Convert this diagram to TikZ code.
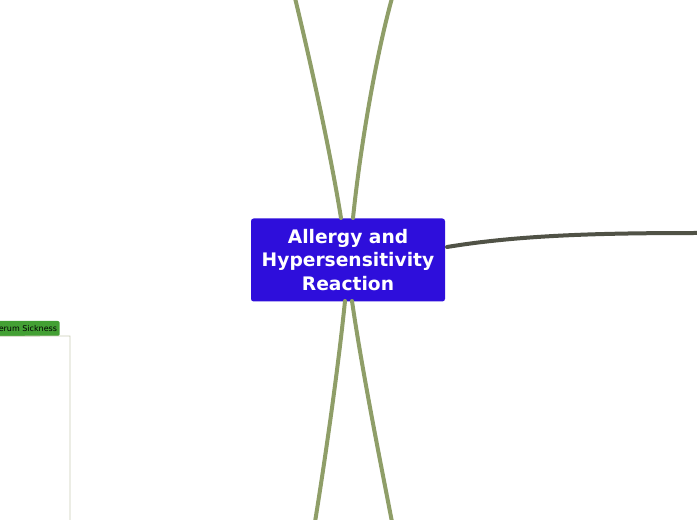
\documentclass[tikz,border=0pt]{standalone}
\usepackage{fontspec}
\setmainfont{DejaVu Sans}
\begin{document}
\begin{tikzpicture}[x=0.75pt,y=-0.75pt,
  branch/.style={line width=3pt,color={rgb,255:red,143;green,158;blue,104},line cap=round},
  dark/.style={line width=3pt,color={rgb,255:red,80;green,82;blue,70},line cap=round}]
\useasboundingbox (0,0) rectangle (697,520);
\definecolor{cblue}{RGB}{46,14,219}
\definecolor{cgreen}{RGB}{67,160,52}
\node[fill=cblue,rounded corners=2pt,minimum width=194*0.75pt,minimum height=83*0.75pt,inner sep=0pt,align=center,text=white,font=\bfseries\fontsize{14}{17.3}\selectfont] (c) at (348,260) {Allergy and\\Hypersensitivity\\Reaction};
\coordinate (t1) at (295,-2);
\coordinate (t2) at (392,-2);
\coordinate (b1) at (315,522);
\coordinate (b2) at (392,522);
\coordinate (r) at (699,233);
\draw[branch] (341,218) .. controls (330,150) and (310,60) .. (t1);
\draw[branch] (353,218) .. controls (360,150) and (375,60) .. (t2);
\draw[branch] (345,301) .. controls (338,370) and (325,460) .. (b1);
\draw[branch] (352,301) .. controls (362,370) and (380,460) .. (b2);
\draw[dark] (447,247) .. controls (520,235) and (600,233) .. (r);
\node[fill=cgreen,rounded corners=1.5pt,anchor=east,inner sep=2pt,minimum height=15*0.75pt,font=\fontsize{6}{7}\selectfont] (s) at (60,328.5) {Serum Sickness};
\coordinate (k) at (70,336);
\coordinate (k2) at (70,522);
\draw[color={rgb,255:red,200;green,204;blue,180},line width=0.6pt] (s.south west) -- (k) -- (k2);
\end{tikzpicture}
\end{document}
